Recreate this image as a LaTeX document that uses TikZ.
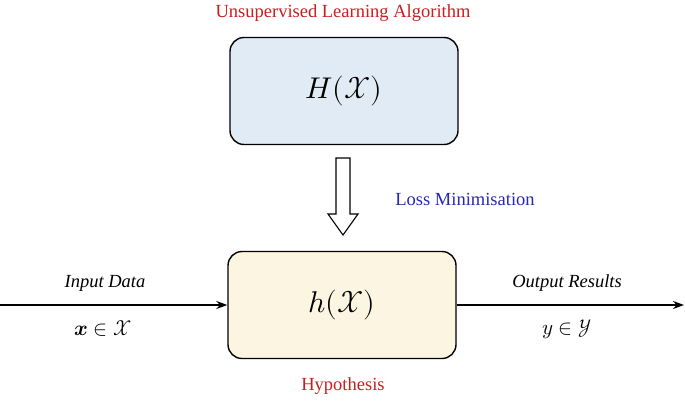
\documentclass[tikz,border=0pt]{standalone}
\usetikzlibrary{arrows.meta}
\usepackage{fontspec}
\setmainfont{Liberation Serif}
\usepackage{unicode-math}
\setmathfont{Latin Modern Math}
\begin{document}
\begin{tikzpicture}[x=1pt,y=-1pt,
 boxst/.style={draw=black,line width=1.4pt,rounded corners=14pt,minimum width=228pt,minimum height=107pt},
 lbl/.style={font=\fontsize{18.5}{22}\selectfont},
 arr/.style={line width=1.4pt,-{Stealth[length=11pt,width=8pt]}}]
\useasboundingbox (0,0) rectangle (685,402);
\definecolor{topfill}{RGB}{224,235,245}
\definecolor{botfill}{RGB}{252,245,226}
\definecolor{redt}{RGB}{200,30,30}
\definecolor{bluet}{RGB}{40,40,170}
\node[lbl,text=redt] (title) at (343,13) {Unsupervised Learning Algorithm};
\node[boxst,fill=topfill] (H) at (344,91) {\fontsize{30}{34}\selectfont $H(\mathcal{X})$};
\node[boxst,fill=botfill] (h) at (342,305) {\fontsize{30}{34}\selectfont $h(\mathcal{X})$};
\draw[line width=1.1pt,fill=white] (336,158) -- (350,158) -- (350,214) -- (358,214) -- (343,235) -- (328,214) -- (336,214) -- cycle;
\node[lbl,text=bluet] (loss) at (465,199) {Loss Minimisation};
\coordinate (L) at (0,305);
\coordinate (R) at (684,305);
\draw[arr] (L) -- (h.west);
\draw[arr] (h.east) -- (R);
\node[lbl] (in) at (105,283) {\textit{Input Data}};
\node[lbl,font=\fontsize{21}{24}\selectfont] (x) at (103,329) {$\symbfit{x}\in\mathcal{X}$};
\node[lbl] (out) at (567,283) {\textit{Output Results}};
\node[lbl,font=\fontsize{21}{24}\selectfont] (y) at (567,329) {$y\in\mathcal{Y}$};
\node[lbl,text=redt] (hyp) at (343,386) {Hypothesis};
\end{tikzpicture}
\end{document}
